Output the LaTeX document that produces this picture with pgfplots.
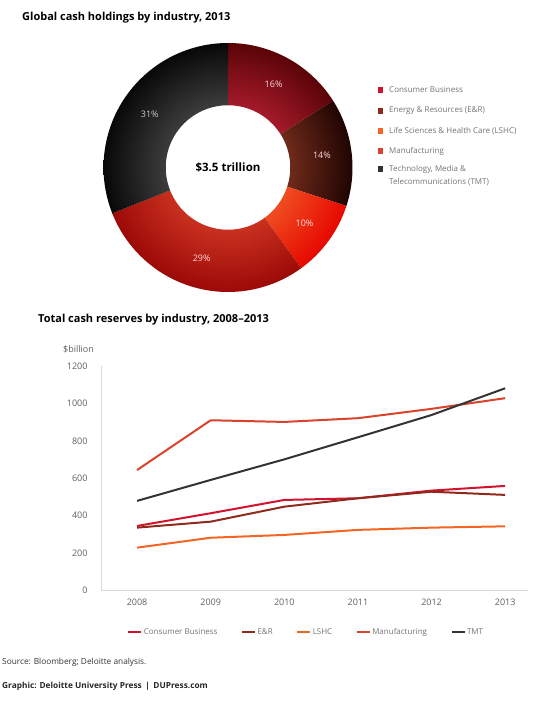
\documentclass[border=0pt]{standalone}
\usepackage{pgfplots}
\pgfplotsset{compat=1.18}
\usepackage{pgfplotstable}
\usepackage{fontspec}
\setmainfont{Open Sans}

% line colours
\definecolor{cbline}{HTML}{D2132D}
\definecolor{erline}{HTML}{8E2A1C}
\definecolor{lsline}{HTML}{F26522}
\definecolor{mfline}{HTML}{D9432B}
\definecolor{tmtline}{HTML}{333333}
\definecolor{axisgray}{HTML}{D9D9D9}
\definecolor{ticktext}{HTML}{5F5F5F}
\definecolor{legtext}{HTML}{737373}

% ring colours (inner edge / outer edge)
\definecolor{cbin}{HTML}{A51A2A}\definecolor{cbout}{HTML}{5A0408}
\definecolor{erin}{HTML}{6E2A1A}\definecolor{erout}{HTML}{200402}
\definecolor{lsin}{HTML}{F04C20}\definecolor{lsout}{HTML}{E60800}
\definecolor{mfin}{HTML}{C9301F}\definecolor{mfout}{HTML}{9C0A08}
\definecolor{tmin}{HTML}{3C3C3C}\definecolor{tmout}{HTML}{080808}

\pgfdeclareradialshading{ringcb}{\pgfpoint{0bp}{0bp}}{color(0bp)=(cbin);color(12.5bp)=(cbin);color(25bp)=(cbout);color(50bp)=(cbout)}
\pgfdeclareradialshading{ringer}{\pgfpoint{0bp}{0bp}}{color(0bp)=(erin);color(12.5bp)=(erin);color(25bp)=(erout);color(50bp)=(erout)}
\pgfdeclareradialshading{ringls}{\pgfpoint{0bp}{0bp}}{color(0bp)=(lsin);color(12.5bp)=(lsin);color(25bp)=(lsout);color(50bp)=(lsout)}
\pgfdeclareradialshading{ringmf}{\pgfpoint{0bp}{0bp}}{color(0bp)=(mfin);color(12.5bp)=(mfin);color(25bp)=(mfout);color(50bp)=(mfout)}
\pgfdeclareradialshading{ringtm}{\pgfpoint{0bp}{0bp}}{color(0bp)=(tmin);color(12.5bp)=(tmin);color(25bp)=(tmout);color(50bp)=(tmout)}

% cash reserves, $billion (x: 0 = 2008 ... 5 = 2013)
\pgfplotstableread{
x cb er ls mf tmt
0 345 336 229 644 479
1 413 368 282 910 591
2 484 448 297 901 701
3 493 493 324 921 819
4 534 528 336 971 938
5 559 511 343 1028 1081
}\reserves

\begin{document}
\begin{tikzpicture}
\path[use as bounding box] (0,0) rectangle (550pt,709pt);

% titles and notes
\node[anchor=west,inner sep=0pt,font=\bfseries\fontsize{11}{13}\selectfont] at (22pt,691pt) {Global cash holdings by industry, 2013};
\node[anchor=west,inner sep=0pt,font=\bfseries\fontsize{11}{13}\selectfont] at (38pt,389pt) {Total cash reserves by industry, 2008--2013};
\node[anchor=west,inner sep=0pt,text=ticktext,font=\fontsize{9}{11}\selectfont] at (63pt,360pt) {\$billion};
\node[anchor=west,inner sep=0pt,text=black!80,font=\fontsize{8.3}{10}\selectfont] at (2pt,47pt) {Source: Bloomberg; Deloitte analysis.};
\node[anchor=west,inner sep=0pt,text=black!85,font=\bfseries\fontsize{8.3}{10}\selectfont] at (2pt,23pt) {Graphic: Deloitte University Press \,|\, DUPress.com};

% donut of 2013 shares (1 axis unit = 124.5pt)
\begin{axis}[
  at={(228pt,541.5pt)}, anchor=center,
  scale only axis, width=249pt, height=249pt,
  xmin=-1, xmax=1, ymin=-1, ymax=1, hide axis, clip=false]
\pgfplotsextra{
  \gdef\acc{90}
  \foreach \p/\sh/\lc in {16/cb/{red!15!white}, 14/er/{red!15!white}, 10/ls/{red!10!white}, 29/mf/{red!15!white}, 31/tm/{black!20!white}}{
    \pgfmathsetmacro\b{\acc-3.6*\p}
    \pgfmathsetmacro\m{(\acc+\b)/2}
    \begin{scope}
      \clip (axis cs:{cos(\acc)},{sin(\acc)}) arc[start angle=\acc, end angle=\b, radius=124.5pt]
        -- (axis cs:{0.5*cos(\b)},{0.5*sin(\b)}) arc[start angle=\b, end angle=\acc, radius=62.25pt] -- cycle;
      \shade[shading=ring\sh] (axis cs:0,0) circle[radius=124.5pt];
    \end{scope}
    \node[text=\lc, font=\fontsize{9}{11}\selectfont] at (axis cs:{0.76*cos(\m)},{0.76*sin(\m)}) {\p\%};
    \xdef\acc{\b}
  }
  \node[font=\bfseries\fontsize{11.5}{13}\selectfont] at (axis cs:0,0) {\$3.5 trillion};
}
\end{axis}

% donut legend
\begin{scope}[every node/.style={anchor=west, inner sep=0pt, text=legtext, font=\fontsize{8}{10}\selectfont}]
\foreach \c/\t/\yy in {cbline/Consumer Business/619, erline/Energy \& Resources (E\&R)/598,
    lsline/Life Sciences \& Health Care (LSHC)/578, mfline/Manufacturing/558,
    tmtline/Technology{,} Media \&/540}{
  \fill[\c] (378pt,\yy pt-2.6pt) rectangle ++(5.2pt,5.2pt);
  \node at (389pt,\yy pt) {\t};
}
\node at (389pt,526.5pt) {Telecommunications (TMT)};
\end{scope}

% reserves over time
\begin{axis}[
  at={(101pt,118.5pt)}, anchor=south west,
  scale only axis, width=427pt, height=224.5pt,
  xmin=-0.49, xmax=5.31, ymin=0, ymax=1200,
  axis x line*=bottom, axis y line*=left,
  axis line style={draw=axisgray, line width=1pt, -},
  xtick={0,...,5}, xticklabels={2008,2009,2010,2011,2012,2013},
  ytick={0,200,...,1200},
  major tick length=0pt,
  /pgf/number format/assume math mode=true,
  /pgf/number format/1000 sep={},
  tick label style={text=ticktext, font=\fontsize{9}{11}\selectfont},
  yticklabel style={xshift=-10pt},
  xticklabel style={yshift=-5pt},
  legend columns=5,
  legend style={at={(0.48,-0.185)}, anchor=center, draw=none, fill=none,
    font=\fontsize{8}{10}\selectfont, text=legtext,
    /tikz/every even column/.append style={column sep=22pt},
    inner sep=0pt, nodes={inner sep=1.5pt}},
  legend image code/.code={\draw[#1, line width=2pt] (0pt,0pt) -- (13pt,0pt);},
  every axis plot/.append style={line width=2pt, mark=none, line join=round},
]
\addplot[cbline] table[x=x, y=cb] {\reserves};
\addplot[erline] table[x=x, y=er] {\reserves};
\addplot[lsline] table[x=x, y=ls] {\reserves};
\addplot[mfline] table[x=x, y=mf] {\reserves};
\addplot[tmtline] table[x=x, y=tmt] {\reserves};
\legend{Consumer Business, E\&R, LSHC, Manufacturing, TMT}
\end{axis}
\end{tikzpicture}
\end{document}
